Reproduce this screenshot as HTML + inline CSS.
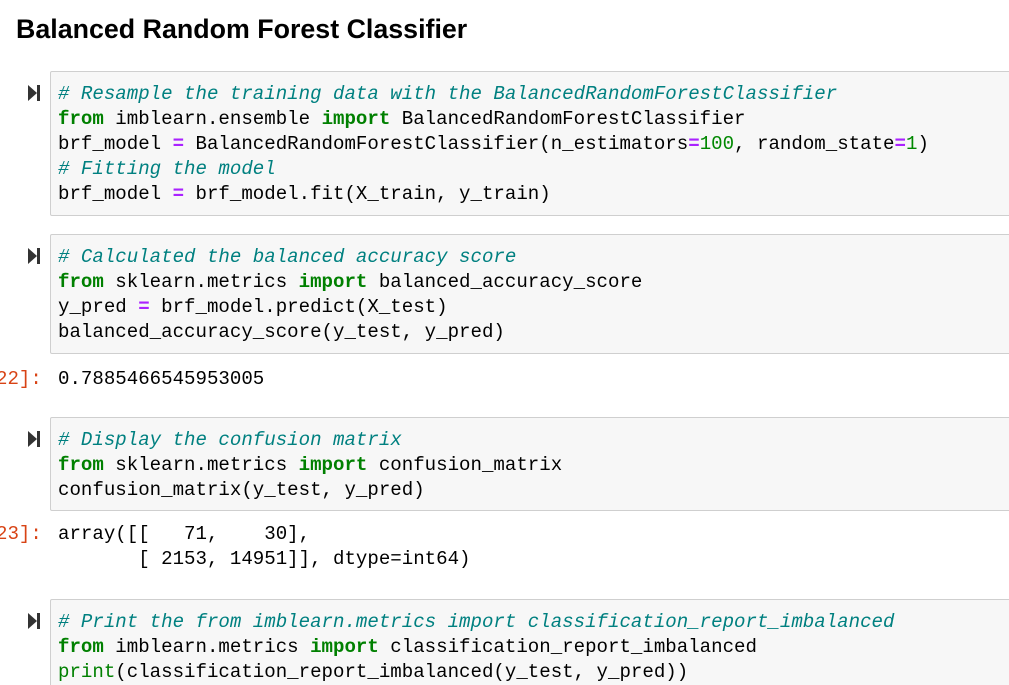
<!DOCTYPE html>
<html><head><meta charset="utf-8"><style>
html,body{margin:0;width:1009px;height:685px;overflow:hidden}
body{background:#fff;position:relative;font-family:"Liberation Sans",sans-serif}
h1{position:absolute;left:16px;top:12px;margin:0;font-size:26.8px;font-weight:bold;color:#000;line-height:34px}
.cell{position:absolute;left:50px;width:980px;background:#f7f7f7;border:1px solid #cfcfcf;border-radius:2px}
.code,.out{position:absolute;left:58px;margin:0;font-family:"Liberation Mono",monospace;font-size:19.1px;line-height:25px;color:#000;white-space:pre}
.c{color:#008080;font-style:italic}
.k{color:#008000;font-weight:bold}
.o{color:#aa22ff;font-weight:bold}
.n{color:#008800}
.b{color:#008000}
.run{position:absolute;left:28px;width:12px;height:16px}
.p{position:absolute;left:-4px;font-family:"Liberation Mono",monospace;font-size:19.1px;color:#d84315;line-height:25px}
</style></head><body>
<h1>Balanced Random Forest Classifier</h1>

<div class="cell" style="top:71px;height:143px"></div>
<svg class="run" style="top:85px" viewBox="0 0 12 16"><polygon points="0,0 9,8 0,16" fill="#333"/><rect x="9" y="0" width="3" height="16" fill="#333"/></svg>
<pre class="code" style="top:82px"><span class="c"># Resample the training data with the BalancedRandomForestClassifier</span>
<span class="k">from</span> imblearn.ensemble <span class="k">import</span> BalancedRandomForestClassifier
brf_model <span class="o">=</span> BalancedRandomForestClassifier(n_estimators<span class="o">=</span><span class="n">100</span>, random_state<span class="o">=</span><span class="n">1</span>)
<span class="c"># Fitting the model</span>
brf_model <span class="o">=</span> brf_model.fit(X_train, y_train)</pre>

<div class="cell" style="top:234px;height:118px"></div>
<svg class="run" style="top:248px" viewBox="0 0 12 16"><polygon points="0,0 9,8 0,16" fill="#333"/><rect x="9" y="0" width="3" height="16" fill="#333"/></svg>
<pre class="code" style="top:245px"><span class="c"># Calculated the balanced accuracy score</span>
<span class="k">from</span> sklearn.metrics <span class="k">import</span> balanced_accuracy_score
y_pred <span class="o">=</span> brf_model.predict(X_test)
balanced_accuracy_score(y_test, y_pred)</pre>

<div class="p" style="top:367px">22]:</div>
<pre class="out" style="top:367px">0.7885466545953005</pre>

<div class="cell" style="top:417px;height:92px"></div>
<svg class="run" style="top:431px" viewBox="0 0 12 16"><polygon points="0,0 9,8 0,16" fill="#333"/><rect x="9" y="0" width="3" height="16" fill="#333"/></svg>
<pre class="code" style="top:428px"><span class="c"># Display the confusion matrix</span>
<span class="k">from</span> sklearn.metrics <span class="k">import</span> confusion_matrix
confusion_matrix(y_test, y_pred)</pre>

<div class="p" style="top:522px">23]:</div>
<pre class="out" style="top:522px">array([[   71,    30],
       [ 2153, 14951]], dtype=int64)</pre>

<div class="cell" style="top:599px;height:90px"></div>
<svg class="run" style="top:613px" viewBox="0 0 12 16"><polygon points="0,0 9,8 0,16" fill="#333"/><rect x="9" y="0" width="3" height="16" fill="#333"/></svg>
<pre class="code" style="top:610px"><span class="c"># Print the from imblearn.metrics import classification_report_imbalanced</span>
<span class="k">from</span> imblearn.metrics <span class="k">import</span> classification_report_imbalanced
<span class="b">print</span>(classification_report_imbalanced(y_test, y_pred))</pre>
</body></html>
